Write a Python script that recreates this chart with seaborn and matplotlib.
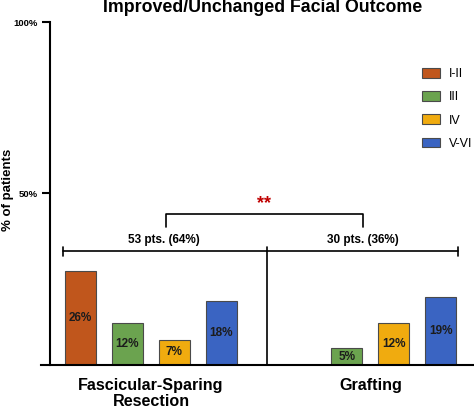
import matplotlib

matplotlib.use("Agg")
import matplotlib.pyplot as plt
import pandas as pd
import seaborn as sns

GROUPS = ["Fascicular-Sparing\nResection", "Grafting"]
GRADES = ["I-II", "III", "IV", "V-VI"]
COLORS = ["#C0561C", "#6BA34F", "#F0AB0F", "#3A64C2"]

# bar heights (% of patients); None = no bar
SPARING_PCT = [27.4, 12.3, 7.3, 18.7]
GRAFTING_PCT = [None, 4.9, 12.3, 19.9]
SPARING_LABELS = ["26%", "12%", "7%", "18%"]
GRAFTING_LABELS = ["", "5%", "12%", "19%"]

GROUP_TOTALS = ["53 pts. (64%)", "30 pts. (36%)"]
SIGNIFICANCE = "**"

sns.set_theme(style="white")
plt.rcParams["font.family"] = ["Liberation Sans", "DejaVu Sans"]
plt.rcParams["font.weight"] = "bold"
for key in ["text.color", "axes.labelcolor", "xtick.color", "ytick.color"]:
    plt.rcParams[key] = "black"

rows = []
for group, values in zip(GROUPS, [SPARING_PCT, GRAFTING_PCT]):
    for grade, value in zip(GRADES, values):
        if value is not None:
            rows.append({"group": group, "grade": grade, "pct": value})
df = pd.DataFrame(rows)
labels = {GROUPS[0]: SPARING_LABELS, GROUPS[1]: GRAFTING_LABELS}

W, H = 474, 411
fig = plt.figure(figsize=(W / 100, H / 100), dpi=100)
ax = fig.add_axes([41 / W, 46 / H, 433 / W, 343 / H])

sns.barplot(
    data=df,
    x="group",
    y="pct",
    hue="grade",
    order=GROUPS,
    hue_order=GRADES,
    palette=dict(zip(GRADES, COLORS)),
    width=0.856,
    gap=0.34,
    edgecolor="#4a4a4a",
    linewidth=0.8,
    saturation=1,
    errorbar=None,
    ax=ax,
)

for grade_idx, container in enumerate(ax.containers):
    texts = []
    for bar in container:
        gi = int(round(bar.get_x() + bar.get_width() / 2))
        texts.append(labels[GROUPS[gi]][grade_idx])
    ax.bar_label(container, labels=texts, label_type="center",
                 fontsize=8.5, fontweight="bold", color="#1c1c1c")

ax.set_xlim(-0.501, 1.472)
ax.set_ylim(0, 100)
ax.set_yticks([50, 100])
ax.set_yticklabels(["50%", "100%"])
ax.tick_params(axis="y", length=6, width=1.5, pad=3, labelsize=6.8, left=True)
ax.tick_params(axis="x", length=0, pad=9, labelsize=11.6)
for lab in ax.get_xticklabels():
    lab.set_linespacing(1.1)
ax.set_xlabel("")
ax.set_ylabel("")

for side in ["top", "right"]:
    ax.spines[side].set_visible(False)
for side in ["left", "bottom"]:
    ax.spines[side].set_linewidth(1.5)
    ax.spines[side].set_color("black")
ax.spines["left"].set_position(("data", -0.46))

# group brackets and divider
line_kw = dict(color="black", lw=1.2, clip_on=False)
ax.plot([-0.399, 1.397], [33.2, 33.2], **line_kw)
ax.plot([-0.399, -0.399], [31.8, 34.5], **line_kw)
ax.plot([1.397, 1.397], [31.8, 34.5], **line_kw)
ax.plot([0.531, 0.531], [0, 34.5], **line_kw)
for xpos, txt in zip([0.058, 0.964], GROUP_TOTALS):
    ax.text(xpos, 36.4, txt, ha="center", va="center",
            fontsize=8.5, fontweight="bold")

# significance bracket
ax.plot([0.067, 0.067, 0.965, 0.965], [40.2, 44.0, 44.0, 40.2], **line_kw)
ax.text(0.515, 47.0, SIGNIFICANCE, ha="center", va="center",
        fontsize=13, fontweight="bold", color="#C00000")

leg = ax.legend(
    loc="upper left",
    bbox_to_anchor=(416 / W, 1 - 62 / H),
    bbox_transform=fig.transFigure,
    frameon=False,
    borderpad=0,
    handlelength=1.45,
    handleheight=0.8,
    handletextpad=0.7,
    labelspacing=0.88,
    prop={"size": 9, "weight": "normal"},
)

fig.text(8 / W, 1 - 190 / H, "% of patients", rotation=90,
         ha="center", va="center", fontsize=9.5, fontweight="bold")
fig.text(263 / W, 1 - 12.5 / H, "Improved/Unchanged Facial Outcome",
         ha="center", va="baseline", fontsize=12.8, fontweight="bold")

fig.savefig("out.png", dpi=100)
